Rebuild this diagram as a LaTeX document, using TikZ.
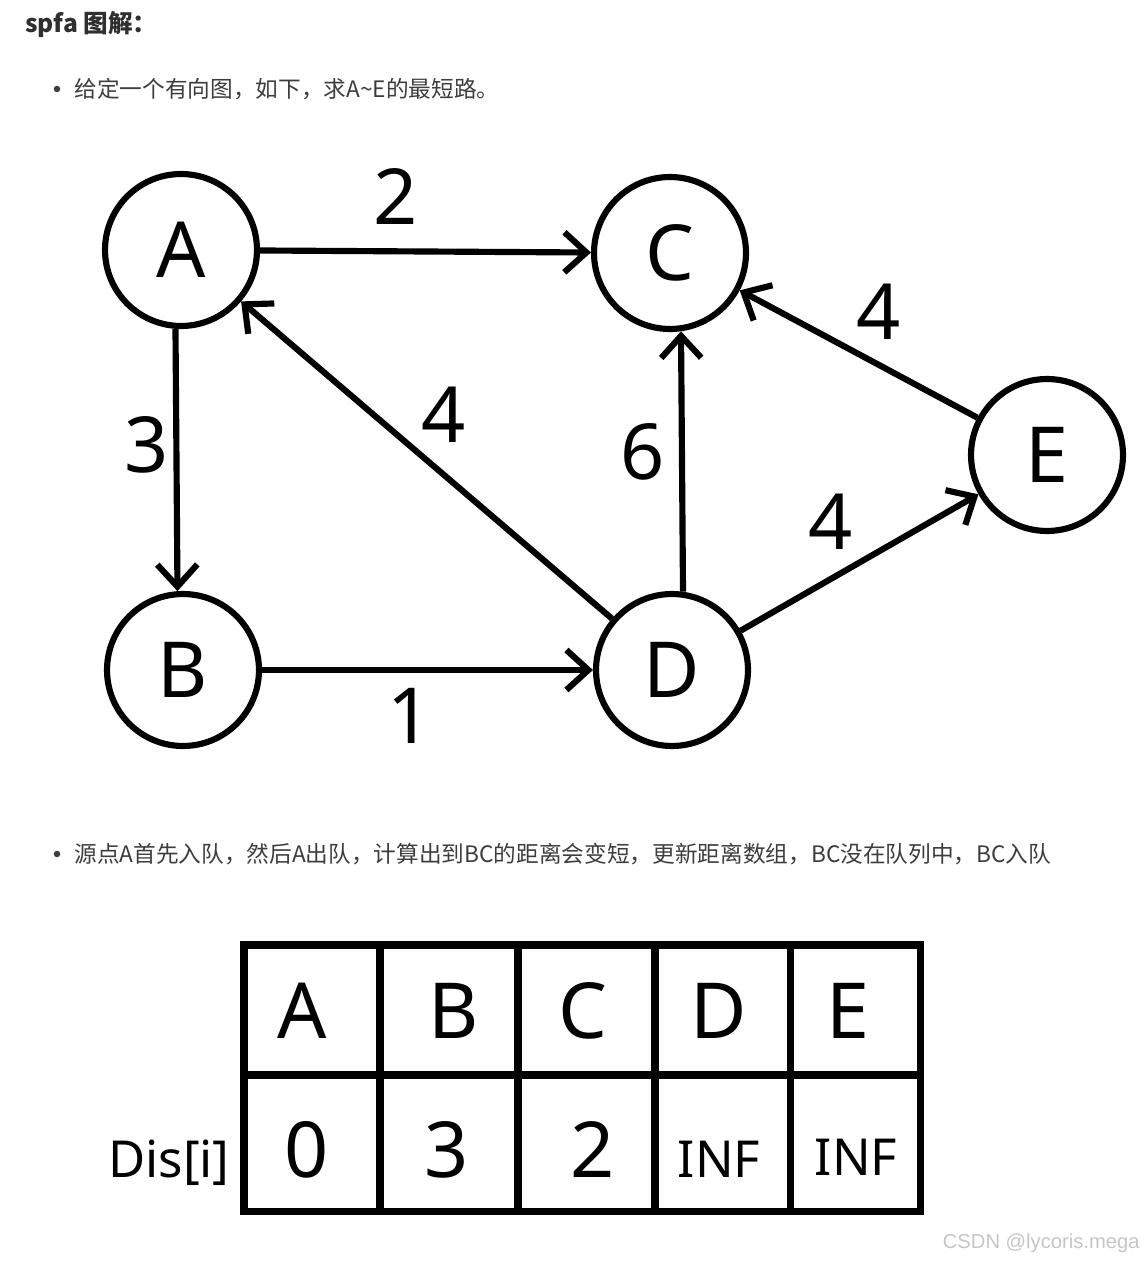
\documentclass[tikz,border=0pt]{standalone}
\usepackage{fontspec}
\setmainfont{Noto Sans}
\newfontfamily\cjk{Noto Sans CJK SC}
\newfontfamily\markfont{Liberation Sans}
\usepackage{xcolor}
\usepackage{tikz}
\usetikzlibrary{arrows.meta}
\definecolor{TitleGray}{HTML}{2F2F2F}
\definecolor{BodyGray}{HTML}{3D3D3D}
\definecolor{MarkGray}{HTML}{C6C6C6}
\tikzset{
  vertex/.style={circle,draw=black,line width=3.5pt,minimum size=3.04cm,inner sep=0pt,font=\fontsize{44}{48}\selectfont},
  edgearrow/.style={-{Straight Barb[length=4.4mm,width=8mm]},line width=3.5pt,draw=black},
  weight/.style={inner sep=0pt,font=\fontsize{44}{48}\selectfont},
  tableline/.style={line width=4pt,draw=black},
  headcell/.style={anchor=base,inner sep=0pt,font=\fontsize{44}{48}\selectfont},
  valcell/.style={anchor=base,inner sep=0pt,font=\fontsize{44}{48}\selectfont},
  infcell/.style={anchor=base,inner sep=0pt,font=\fontsize{29}{33}\selectfont},
  bodytext/.style={anchor=west,inner sep=0pt,text=BodyGray,font=\cjk\fontsize{12.9}{15}\selectfont},
  bulletdot/.style={circle,fill=BodyGray,inner sep=0pt,minimum size=1.3mm}
}
\begin{document}
\begin{tikzpicture}[x=0.02cm,y=-0.02cm]
\useasboundingbox[fill=white] (0,0) rectangle (1144,1263);
% heading and first line
\node[anchor=west,inner sep=0pt,text=TitleGray,font=\cjk\bfseries\fontsize{14}{17}\selectfont] (title) at (25,25) {spfa 图解：};
\node[bulletdot] (b1) at (57,89) {};
\node[bodytext] (t1) at (74,89) {给定一个有向图，如下，求A\textasciitilde E的最短路。};
% graph
\node[vertex] (A) at (181,250) {A};
\node[vertex] (C) at (670,253) {C};
\node[vertex] (E) at (1047,455) {E};
\node[vertex] (B) at (183,670) {B};
\node[vertex] (D) at (672,670) {D};
\draw[edgearrow] (A) -- (C);
\draw[edgearrow] (A.-94) -- (B.94);
\draw[edgearrow] (B) -- (D);
\draw[edgearrow] (D) -- (A);
\draw[edgearrow] (D.82) -- (C.-82);
\draw[edgearrow] (D) -- (E);
\draw[edgearrow] (E) -- (C);
\node[weight] (wAC) at (396,197) {2};
\node[weight] (wAB) at (147,445) {3};
\node[weight] (wBD) at (410,716) {1};
\node[weight] (wDA) at (444,415) {4};
\node[weight] (wDC) at (643,452) {6};
\node[weight] (wDE) at (831,522) {4};
\node[weight] (wEC) at (879,312) {4};
% second line
\node[bulletdot] (b2) at (57,854) {};
\node[bodytext] (t2) at (74,854) {源点A首先入队，然后A出队，计算出到BC的距离会变短，更新距离数组，BC没在队列中，BC入队};
% distance table
\draw[tableline] (244,945) rectangle (920,1211);
\draw[tableline] (244,1075) -- (920,1075);
\foreach \x in {380,518,655,790}
  \draw[tableline] (\x,945) -- (\x,1211);
\node[headcell] (hA) at (302,1038) {A};
\node[headcell] (hB) at (454,1038) {B};
\node[headcell] (hC) at (583,1038) {C};
\node[headcell] (hD) at (719,1038) {D};
\node[headcell] (hE) at (848,1038) {E};
\node[infcell] (dis) at (169,1177) {Dis[i]};
\node[valcell] (vA) at (307,1177) {0};
\node[valcell] (vB) at (447,1177) {3};
\node[valcell] (vC) at (593,1177) {2};
\node[infcell] (vD) at (719,1177) {INF};
\node[infcell] (vE) at (856,1175) {INF};
% watermark
\node[anchor=east,inner sep=0pt,text=MarkGray,font=\markfont\fontsize{11.5}{14}\selectfont] (mark) at (1140,1243) {CSDN @lycoris.mega};
\end{tikzpicture}
\end{document}
